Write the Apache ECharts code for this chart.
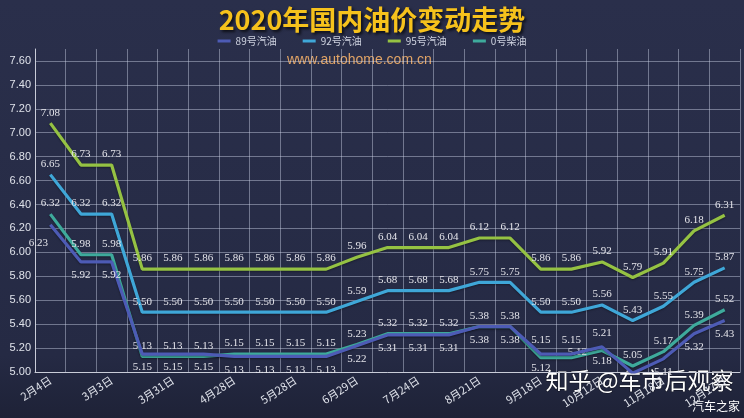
<!DOCTYPE html>
<html><head><meta charset="utf-8">
<script src="https://cdn.jsdelivr.net/npm/echarts@6/dist/echarts.min.js"></script>
<style>html,body{margin:0;padding:0;background:#262b45}#c{width:744px;height:418px}</style>
</head><body><div id="c"></div>
<script>
// categories (every other one is labelled on the axis)
const dates = ['2月4日','2月18日','3月3日','3月17日','3月31日','4月15日','4月28日','5月13日','5月28日','6月11日','6月29日','7月10日','7月24日','8月7日','8月21日','9月4日','9月18日','9月30日','10月12日','10月26日','11月18日','12月3日','12月17日'];
const seriesNames = ['89号汽油','92号汽油','95号汽油','0号柴油'];
const p89 = [6.23,5.92,5.92,5.15,5.15,5.15,5.13,5.13,5.13,5.13,5.22,5.31,5.31,5.31,5.38,5.38,5.15,5.15,5.21,4.99,5.11,5.32,5.43];
const p92 = [6.65,6.32,6.32,5.50,5.50,5.50,5.50,5.50,5.50,5.50,5.59,5.68,5.68,5.68,5.75,5.75,5.50,5.50,5.56,5.43,5.55,5.75,5.87];
const p95 = [7.08,6.73,6.73,5.86,5.86,5.86,5.86,5.86,5.86,5.86,5.96,6.04,6.04,6.04,6.12,6.12,5.86,5.86,5.92,5.79,5.91,6.18,6.31];
const p0  = [6.32,5.98,5.98,5.13,5.13,5.13,5.15,5.15,5.15,5.15,5.23,5.32,5.32,5.32,5.38,5.38,5.12,5.12,5.18,5.05,5.17,5.39,5.52];
const yMin = 5.0, yMax = 7.7, yStep = 0.2;

const colors = ['#4d5bb5','#3fa7d8','#95c243','#3eaa9c'];
const labelFont = {color:'#e4e4ea', fontSize:11, fontFamily:'Liberation Serif'};

// per-point label placement tweaks (style only, keyed by category index)
const labelTweaks = {
  '89号汽油': {0:{position:'bottom',offset:[-12,5]},16:{position:'top'},17:{position:'top'},18:{position:'top'},19:{show:false}},
  '0号柴油': {16:{position:'bottom'},17:{position:'top',distance:0,offset:[6,0]},18:{position:'bottom'}}
};
function build(name, values){
  const tw = labelTweaks[name] || {};
  return values.map((v,i)=> tw[i] ? {value:v, label:tw[i]} : v);
}
const defaults = {'89号汽油':['bottom',8],'92号汽油':['top',5],'95号汽油':['top',5],'0号柴油':['top',5]};
const vals = {'89号汽油':p89,'92号汽油':p92,'95号汽油':p95,'0号柴油':p0};

const chart = echarts.init(document.getElementById('c'));
chart.setOption({
  animation:false,
  backgroundColor:{type:'linear',x:0,y:0,x2:0,y2:1,colorStops:[{offset:0,color:'#2a2f4b'},{offset:0.85,color:'#252a44'},{offset:1,color:'#1e2237'}]},
  color: colors,
  title:{text:'2020年国内油价变动走势',left:'center',top:1,
    textStyle:{color:'#f6c21c',fontSize:27,fontWeight:'bold',fontFamily:'Noto Sans CJK SC',
      textShadowColor:'rgba(0,0,0,0.7)',textShadowBlur:3,textShadowOffsetX:2,textShadowOffsetY:2}},
  legend:{top:31,left:'center',itemGap:26,itemWidth:13,itemHeight:3,icon:'rect',
    textStyle:{color:'#cfd3e0',fontSize:10,fontFamily:'Noto Sans CJK SC'},data:seriesNames},
  grid:{left:35,right:4,top:49,bottom:46},
  xAxis:{type:'category',data:dates,boundaryGap:true,
    axisLine:{lineStyle:{color:'#c9ccd8',width:1}},
    axisTick:{show:false},
    axisLabel:{interval:1,rotate:33,color:'#dfe2ea',fontSize:11,margin:7,fontFamily:'Noto Sans CJK SC'},
    splitLine:{show:true,interval:0,lineStyle:{color:'rgba(205,210,230,0.45)',width:1}}},
  yAxis:{type:'value',min:yMin,max:yMax,interval:yStep,
    axisLine:{show:true,lineStyle:{color:'#c9ccd8'}},
    axisTick:{show:false},
    axisLabel:{color:'#dfe2ea',fontSize:11,margin:4,showMaxLabel:false,
      formatter:v=>v.toFixed(2),fontFamily:'Liberation Sans'},
    splitLine:{show:true,showMaxLine:false,lineStyle:{color:'rgba(205,210,230,0.45)',width:1}}},
  graphic:[
    {type:'text',left:287,top:53,style:{text:'www.autohome.com.cn',fill:'#e2a466',fontSize:14,fontFamily:'Liberation Sans'}},
    {type:'text',left:545,top:368,style:{text:'知乎 @车市后观察',fill:'#ffffff',fontSize:23,fontFamily:'Noto Sans CJK SC',
      stroke:'rgba(0,0,0,0.5)',lineWidth:1}},
    {type:'text',left:692,top:400,style:{text:'汽车之家',fill:'#ffffff',fontSize:12,fontFamily:'Noto Sans CJK SC'}}
  ],
  series: seriesNames.map((n,k)=>({
    name:n,type:'line',data:build(n,vals[n]),
    symbol:'circle',symbolSize:0.1,showSymbol:true,showAllSymbol:true,
    lineStyle:{width:3.2,color:colors[k],shadowColor:'rgba(0,0,0,0.35)',shadowBlur:2,shadowOffsetY:1},
    itemStyle:{color:colors[k]},
    label:{show:true,position:defaults[n][0],distance:defaults[n][1],formatter:p=>p.value.toFixed(2),...labelFont},
    z: k===0?3:2
  }))
});
</script></body></html>
